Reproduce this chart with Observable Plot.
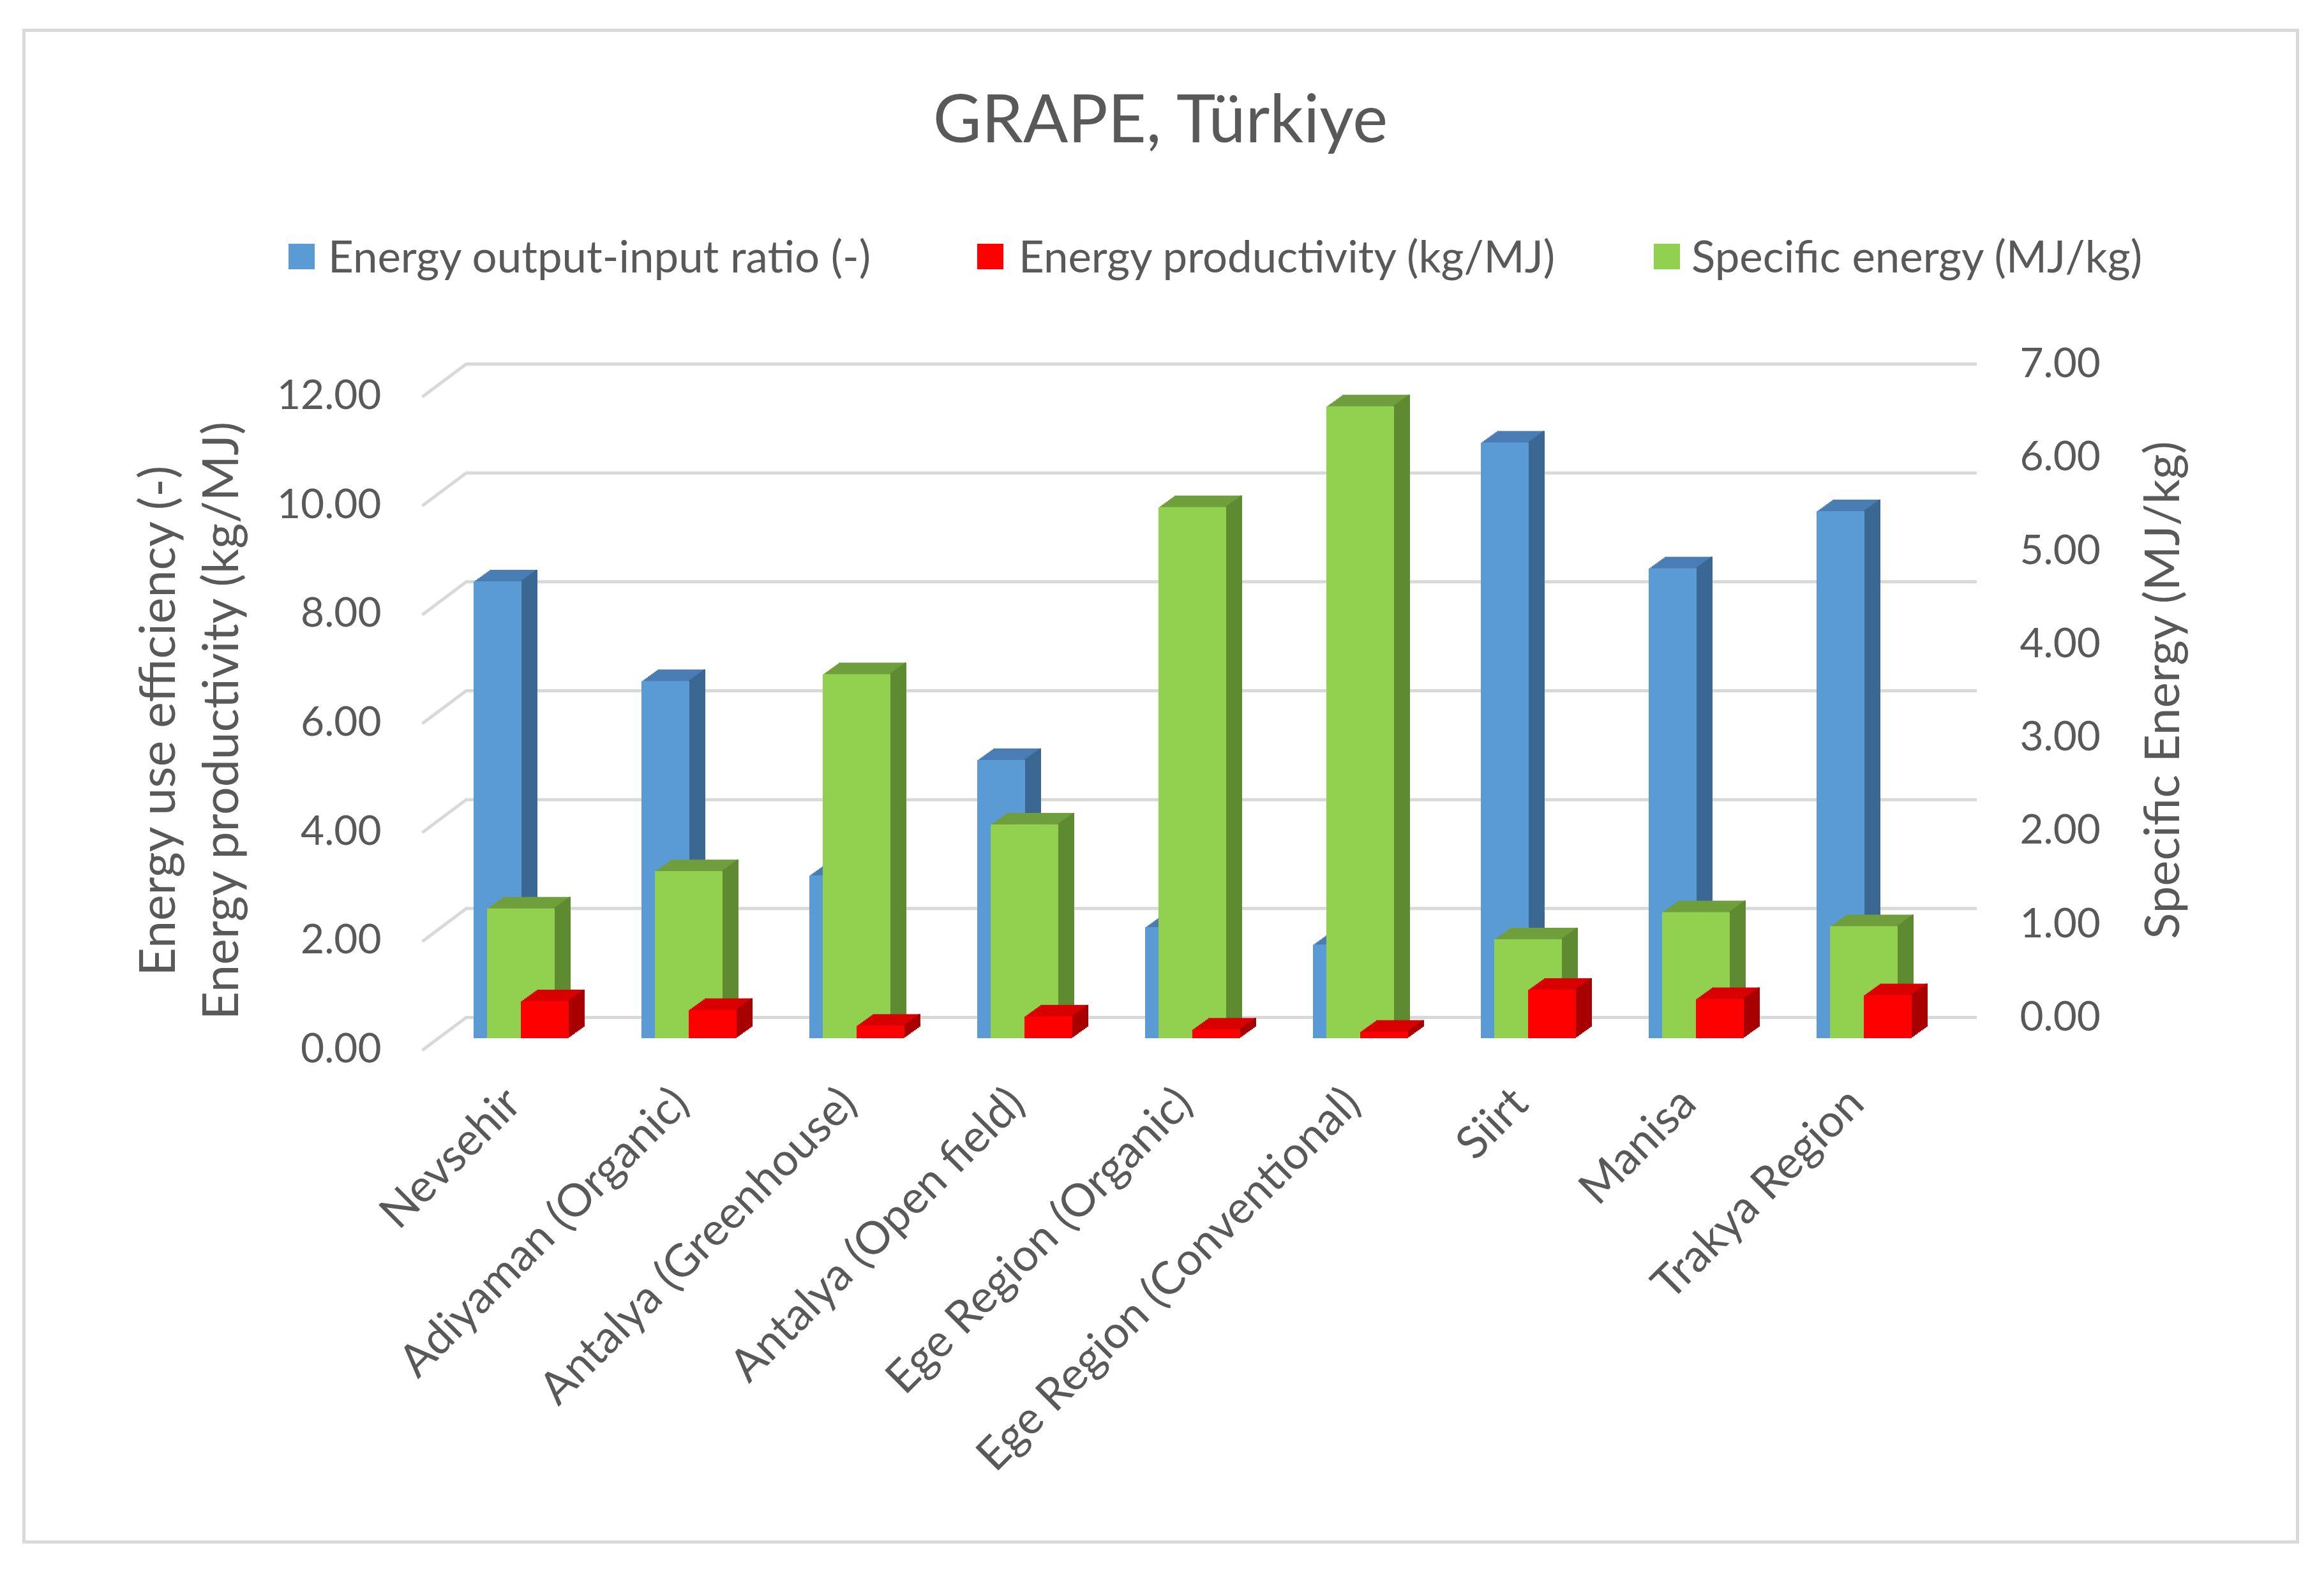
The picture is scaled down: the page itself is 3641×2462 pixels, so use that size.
<!DOCTYPE html>
<html>
<head>
<meta charset="utf-8">
<script src="https://cdn.jsdelivr.net/npm/d3@7"></script>
<script src="https://cdn.jsdelivr.net/npm/@observablehq/plot@0.6"></script>
<style>
  html, body { margin: 0; padding: 0; background: #ffffff; }
  #wrap { position: relative; width: 3641px; height: 2462px; font-family: Lato, "Open Sans", sans-serif; color: #595959; overflow: hidden; }
  #frame { position: absolute; left: 35px; top: 45px; width: 3567px; height: 2374px; border: 5px solid #d9d9d9; box-sizing: border-box; }
  #title { position: absolute; left: 0; width: 3636px; top: 131px; text-align: center; font-size: 104px; line-height: 1; white-space: nowrap; }
  .sw { position: absolute; width: 41px; height: 40px; }
  .lt { position: absolute; font-size: 69px; line-height: 1; white-space: nowrap; }
  #chart { position: absolute; left: 0; top: 0; }
</style>
</head>
<body>
<div id="wrap">
  <div id="frame"></div>
  <div id="title">GRAPE, Türkiye</div>
  <div id="legend"></div>
  <div id="chart"></div>
</div>
<script>
// ---- data ----
const categories = ["Nevsehir", "Adiyaman (Organic)", "Antalya (Greenhouse)", "Antalya (Open field)", "Ege Region (Organic)", "Ege Region (Conventional)", "Siirt", "Manisa", "Trakya Region"];
const energyRatio = [8.39, 6.56, 2.99, 5.11, 2.04, 1.72, 10.94, 8.63, 9.68];        // primary axis
const energyProductivity = [0.68, 0.52, 0.23, 0.40, 0.16, 0.12, 0.89, 0.72, 0.79];  // primary axis
const specificEnergy = [1.39, 1.79, 3.90, 2.29, 5.69, 6.77, 1.06, 1.35, 1.20];      // secondary axis
const seriesNames = ["Energy output-input ratio (-)", "Energy productivity (kg/MJ)", "Specific energy (MJ/kg)"];
const leftTicks = [0, 2, 4, 6, 8, 10, 12];
const rightTicks = [0, 1, 2, 3, 4, 5, 6, 7];
const leftTitle1 = "Energy use efficiency (-)";
const leftTitle2 = "Energy productivity (kg/MJ)";
const rightTitle = "Specific Energy (MJ/kg)";

// ---- styling / layout ----
const secScale = 12 / 7;            // secondary axis 0–7 mapped onto primary 0–12
const bw = 263;                     // band width in px
const depthX = 25, depthY = 18, steps = 10;
const textColor = "#595959";
const gridColor = "#d9d9d9";

const series = [
  {name: seriesNames[0], values: energyRatio, k: 1, front: "#5b9bd5", top: "#4a7db3", side: "#3b6793", L: 12, R: 87},
  {name: seriesNames[2], values: specificEnergy, k: secScale, front: "#92d050", top: "#6e9f3c", side: "#5e8a32", L: 33, R: 139},
  {name: seriesNames[1], values: energyProductivity, k: 1, front: "#ff0000", top: "#d80000", side: "#a80000", L: 86, R: 161}
];

function barMarks(s) {
  const data = categories.map((c, i) => ({category: c, value: s.values[i] * s.k}));
  const marks = [];
  const sx = depthX / steps, sy = depthY / steps;
  for (let j = 1; j <= steps; j++) {
    marks.push(Plot.barY(data, {x: "category", y: "value", insetLeft: s.L, insetRight: bw - s.R,
      dx: j * sx, dy: -j * sy, fill: s.top}));
  }
  for (let j = 1; j <= steps; j++) {
    marks.push(Plot.barY(data, {x: "category", y: "value", insetLeft: s.R - sx - 0.5, insetRight: bw - s.R,
      dx: j * sx, dy: -j * sy, fill: s.side}));
  }
  marks.push(Plot.barY(data, {x: "category", y: "value", insetLeft: s.L, insetRight: bw - s.R, fill: s.front}));
  return marks;
}

const chart = Plot.plot({
  width: 3641,
  height: 2462,
  marginLeft: 730,
  marginRight: 544,
  marginTop: 603,
  marginBottom: 835,
  style: {fontFamily: "Lato, 'Open Sans', sans-serif", fontSize: "64px", color: textColor, background: "transparent"},
  x: {type: "band", domain: categories, padding: 0, label: null},
  y: {domain: [0, 12], label: null},
  marks: [
    Plot.ruleY(leftTicks, {dy: -33, stroke: gridColor, strokeWidth: 5}),
    Plot.vector(leftTicks, {y: d => d, frameAnchor: "left", length: 84, rotate: 233.2, anchor: "start",
      dy: -33, stroke: gridColor, strokeWidth: 5,
      shape: {draw(context, l) { context.moveTo(0, 0); context.lineTo(0, -l); }}}),
    ...series.flatMap(barMarks),
    Plot.axisY({anchor: "left", ticks: leftTicks, tickSize: 0, tickPadding: 133, dy: 17,
      tickFormat: d3.format(".2f"), label: null, fontSize: 64}),
    Plot.axisY({anchor: "right", ticks: rightTicks.map(v => v * secScale), tickSize: 0, tickPadding: 67, dy: -33,
      tickFormat: d => (d / secScale).toFixed(2), label: null, fontSize: 64}),
    Plot.axisX({tickRotate: -45, tickSize: 0, tickPadding: 90, dx: -58, label: null, fontSize: 71}),
    Plot.text([leftTitle1], {text: d => d, frameAnchor: "left", textAnchor: "middle", lineAnchor: "middle", rotate: -90,
      dx: -481, dy: 14, fontSize: 77, fill: textColor}),
    Plot.text([leftTitle2], {text: d => d, frameAnchor: "left", textAnchor: "middle", lineAnchor: "middle", rotate: -90,
      dx: -382, dy: 14, fontSize: 77, fill: textColor}),
    Plot.text([rightTitle], {text: d => d, frameAnchor: "right", textAnchor: "middle", lineAnchor: "middle", rotate: -90,
      dx: 292, dy: -34, fontSize: 76, fill: textColor})
  ]
});
document.getElementById("chart").appendChild(chart);

// ---- legend (order as in reference) ----
const legendItems = [
  {name: seriesNames[0], color: "#5b9bd5", sx: 452, tx: 514},
  {name: seriesNames[1], color: "#ff0000", sx: 1531, tx: 1596},
  {name: seriesNames[2], color: "#92d050", sx: 2591, tx: 2650}
];
const legend = document.getElementById("legend");
for (const it of legendItems) {
  const sw = document.createElement("div");
  sw.className = "sw";
  sw.style.left = it.sx + "px";
  sw.style.top = "382px";
  sw.style.background = it.color;
  legend.appendChild(sw);
  const t = document.createElement("div");
  t.className = "lt";
  t.style.left = it.tx + "px";
  t.style.top = "366px";
  t.textContent = it.name;
  legend.appendChild(t);
}
</script>
</body>
</html>
